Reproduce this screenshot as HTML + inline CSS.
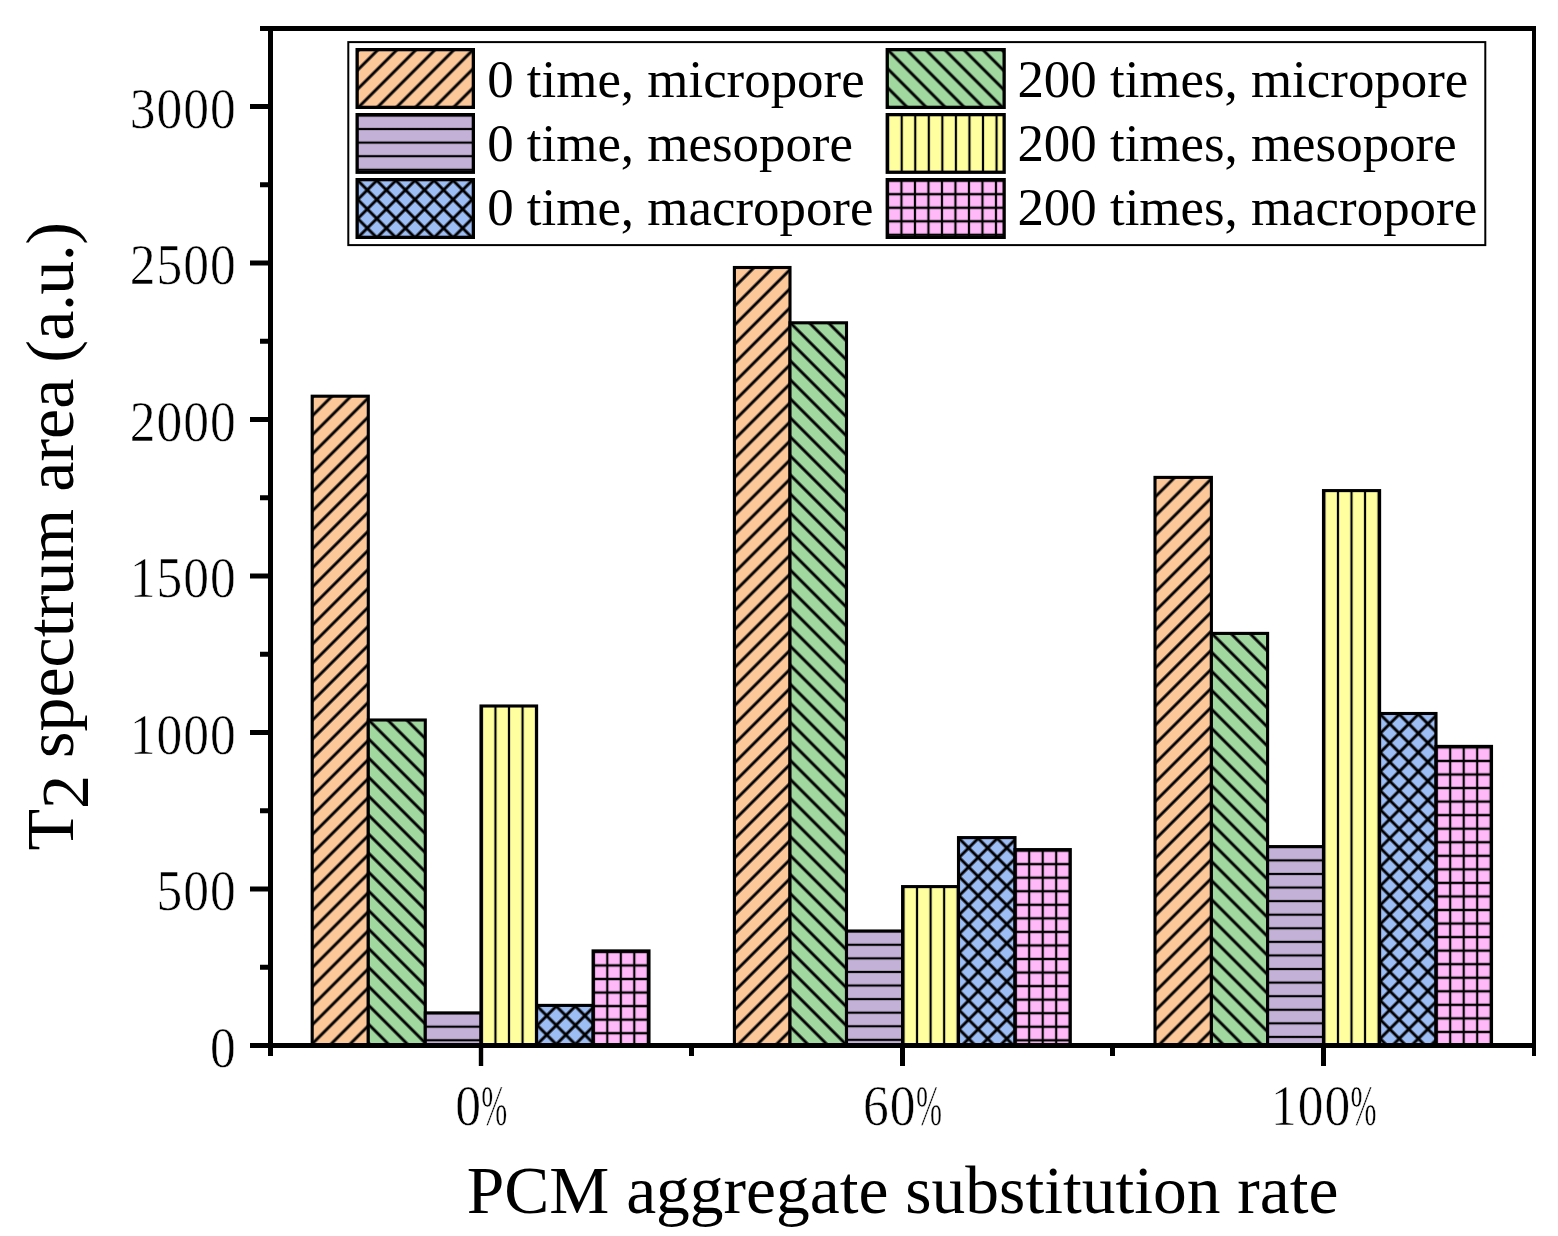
<!DOCTYPE html>
<html><head><meta charset="utf-8"><title>T2 spectrum area</title>
<style>
html,body{margin:0;padding:0;background:#fff}
svg{display:block}
text{font-family:"Liberation Serif",serif;fill:#000}
</style></head><body>
<svg width="1558" height="1236" viewBox="0 0 1558 1236">
<defs>
<pattern id="pO" patternUnits="userSpaceOnUse" width="13.455" height="13.455" patternTransform="translate(-8.814,0) rotate(45)"><line x1="6.7275" y1="-1" x2="6.7275" y2="15" stroke="#000" stroke-width="2.9"/></pattern>
<pattern id="pG" patternUnits="userSpaceOnUse" width="13.455" height="13.455" patternTransform="translate(-9.114,0) rotate(-45)"><line x1="6.7275" y1="-1" x2="6.7275" y2="15" stroke="#000" stroke-width="2.9"/></pattern>
<pattern id="pP" patternUnits="userSpaceOnUse" width="20" height="13.58" patternTransform="translate(0,-6.590)"><line x1="-1" y1="6.79" x2="21" y2="6.79" stroke="#000" stroke-width="2.2"/></pattern>
<pattern id="pY" patternUnits="userSpaceOnUse" width="13.55" height="20" patternTransform="translate(-5.875,0)"><line x1="6.775" y1="-1" x2="6.775" y2="21" stroke="#000" stroke-width="2.2"/></pattern>
<pattern id="pB" patternUnits="userSpaceOnUse" width="13.49" height="13.49" patternTransform="translate(0.600,-8.739) rotate(45)"><path d="M6.745,-1V15M-1,6.745H15" stroke="#000" stroke-width="2.9" fill="none"/></pattern>
<pattern id="pK" patternUnits="userSpaceOnUse" width="13.5" height="13.55" patternTransform="translate(-6.050,-5.775)"><path d="M6.75,-1V15M-1,6.775H15" stroke="#000" stroke-width="2.2" fill="none"/></pattern>
</defs>
<rect width="1558" height="1236" fill="#fff"/>
<g id="bars">
<g transform="translate(312.20,396.20)"><rect width="56.10" height="649.30" fill="#FCC89A"/><rect x="0" y="0" width="56.10" height="649.30" fill="url(#pO)" transform="translate(0,0)"/><rect width="56.10" height="649.30" fill="none" stroke="#000" stroke-width="3.1"/></g>
<g transform="translate(368.30,720.00)"><rect width="57.00" height="325.50" fill="#A0D8A0"/><rect x="0" y="0" width="57.00" height="325.50" fill="url(#pG)" transform="translate(0,0)"/><rect width="57.00" height="325.50" fill="none" stroke="#000" stroke-width="3.1"/></g>
<g transform="translate(425.30,1012.90)"><rect width="55.70" height="32.60" fill="#C3B1D7"/><rect x="0" y="0" width="55.70" height="32.60" fill="url(#pP)" transform="translate(0,0)"/><rect width="55.70" height="32.60" fill="none" stroke="#000" stroke-width="3.1"/></g>
<g transform="translate(481.00,706.00)"><rect width="55.60" height="339.50" fill="#FFFF9F"/><rect x="0" y="0" width="55.60" height="339.50" fill="url(#pY)" transform="translate(0,0)"/><rect width="55.60" height="339.50" fill="none" stroke="#000" stroke-width="3.1"/></g>
<g transform="translate(536.60,1005.40)"><rect width="56.50" height="40.10" fill="#9DBDF5"/><rect x="0" y="0" width="56.50" height="40.10" fill="url(#pB)" transform="translate(0,0)"/><rect width="56.50" height="40.10" fill="none" stroke="#000" stroke-width="3.1"/></g>
<g transform="translate(593.10,950.90)"><rect width="55.90" height="94.60" fill="#FFB8F8"/><rect x="0" y="0" width="55.90" height="94.60" fill="url(#pK)" transform="translate(0,0)"/><rect width="55.90" height="94.60" fill="none" stroke="#000" stroke-width="3.1"/></g>
<g transform="translate(734.40,267.50)"><rect width="55.60" height="778.00" fill="#FCC89A"/><rect x="0" y="0" width="55.60" height="778.00" fill="url(#pO)" transform="translate(0,0)"/><rect width="55.60" height="778.00" fill="none" stroke="#000" stroke-width="3.1"/></g>
<g transform="translate(790.00,322.80)"><rect width="56.50" height="722.70" fill="#A0D8A0"/><rect x="0" y="0" width="56.50" height="722.70" fill="url(#pG)" transform="translate(0,0)"/><rect width="56.50" height="722.70" fill="none" stroke="#000" stroke-width="3.1"/></g>
<g transform="translate(846.50,931.00)"><rect width="56.10" height="114.50" fill="#C3B1D7"/><rect x="0" y="0" width="56.10" height="114.50" fill="url(#pP)" transform="translate(0,0)"/><rect width="56.10" height="114.50" fill="none" stroke="#000" stroke-width="3.1"/></g>
<g transform="translate(902.60,886.60)"><rect width="55.90" height="158.90" fill="#FFFF9F"/><rect x="0" y="0" width="55.90" height="158.90" fill="url(#pY)" transform="translate(0,0)"/><rect width="55.90" height="158.90" fill="none" stroke="#000" stroke-width="3.1"/></g>
<g transform="translate(958.50,837.60)"><rect width="56.50" height="207.90" fill="#9DBDF5"/><rect x="0" y="0" width="56.50" height="207.90" fill="url(#pB)" transform="translate(0,0)"/><rect width="56.50" height="207.90" fill="none" stroke="#000" stroke-width="3.1"/></g>
<g transform="translate(1015.00,849.60)"><rect width="55.30" height="195.90" fill="#FFB8F8"/><rect x="0" y="0" width="55.30" height="195.90" fill="url(#pK)" transform="translate(0,0)"/><rect width="55.30" height="195.90" fill="none" stroke="#000" stroke-width="3.1"/></g>
<g transform="translate(1155.00,477.40)"><rect width="56.40" height="568.10" fill="#FCC89A"/><rect x="0" y="0" width="56.40" height="568.10" fill="url(#pO)" transform="translate(0,0)"/><rect width="56.40" height="568.10" fill="none" stroke="#000" stroke-width="3.1"/></g>
<g transform="translate(1211.40,633.40)"><rect width="56.20" height="412.10" fill="#A0D8A0"/><rect x="0" y="0" width="56.20" height="412.10" fill="url(#pG)" transform="translate(0,0)"/><rect width="56.20" height="412.10" fill="none" stroke="#000" stroke-width="3.1"/></g>
<g transform="translate(1267.60,846.60)"><rect width="55.90" height="198.90" fill="#C3B1D7"/><rect x="0" y="0" width="55.90" height="198.90" fill="url(#pP)" transform="translate(0,0)"/><rect width="55.90" height="198.90" fill="none" stroke="#000" stroke-width="3.1"/></g>
<g transform="translate(1323.50,490.60)"><rect width="56.10" height="554.90" fill="#FFFF9F"/><rect x="0" y="0" width="56.10" height="554.90" fill="url(#pY)" transform="translate(0,0)"/><rect width="56.10" height="554.90" fill="none" stroke="#000" stroke-width="3.1"/></g>
<g transform="translate(1379.60,713.50)"><rect width="56.40" height="332.00" fill="#9DBDF5"/><rect x="0" y="0" width="56.40" height="332.00" fill="url(#pB)" transform="translate(0,0)"/><rect width="56.40" height="332.00" fill="none" stroke="#000" stroke-width="3.1"/></g>
<g transform="translate(1436.00,746.40)"><rect width="55.50" height="299.10" fill="#FFB8F8"/><rect x="0" y="0" width="55.50" height="299.10" fill="url(#pK)" transform="translate(0,0)"/><rect width="55.50" height="299.10" fill="none" stroke="#000" stroke-width="3.1"/></g>
</g>
<g id="axes" fill="#000">
<g shape-rendering="crispEdges"><rect x="260" y="26" width="1276" height="5"/>
<rect x="250" y="1043" width="1286" height="5"/>
<rect x="268" y="26" width="5" height="1030"/>
<rect x="1532" y="26" width="4" height="1030"/></g>
<rect x="260" y="964.75" width="9" height="5"/>
<rect x="250" y="886.50" width="19" height="5"/>
<rect x="260" y="808.25" width="9" height="5"/>
<rect x="250" y="730.00" width="19" height="5"/>
<rect x="260" y="651.75" width="9" height="5"/>
<rect x="250" y="573.50" width="19" height="5"/>
<rect x="260" y="495.25" width="9" height="5"/>
<rect x="250" y="417.00" width="19" height="5"/>
<rect x="260" y="338.75" width="9" height="5"/>
<rect x="250" y="260.50" width="19" height="5"/>
<rect x="260" y="182.25" width="9" height="5"/>
<rect x="250" y="104.00" width="19" height="5"/>
<rect x="478.80" y="1045" width="4.4" height="21"/>
<rect x="900.00" y="1045" width="5" height="21"/>
<rect x="1321.00" y="1045" width="5" height="21"/>
<rect x="689.00" y="1045" width="5" height="11"/>
<rect x="1110.00" y="1045" width="5" height="11"/>
</g>
<g id="ylabels" font-size="56.0" text-anchor="end" letter-spacing="1.022" stroke="#fff" stroke-width="0.6">
<text transform="translate(236.6,1066.9) scale(0.92,1)">0</text>
<text transform="translate(236.6,910.4) scale(0.92,1)">500</text>
<text transform="translate(236.6,753.9) scale(0.92,1)">1000</text>
<text transform="translate(236.6,597.4) scale(0.92,1)">1500</text>
<text transform="translate(236.6,440.9) scale(0.92,1)">2000</text>
<text transform="translate(236.6,284.4) scale(0.92,1)">2500</text>
<text transform="translate(236.6,127.9) scale(0.92,1)">3000</text>
</g>
<g id="xlabels" font-size="56.0" letter-spacing="1.022" stroke="#fff" stroke-width="0.6">
<text transform="translate(455.2,1124.7) scale(0.92,1)">0</text>
<text x="481.3" y="1124.7" textLength="26" lengthAdjust="spacingAndGlyphs" letter-spacing="0">%</text>
<text transform="translate(863.1,1124.7) scale(0.92,1)">60</text>
<text x="915.9" y="1124.7" textLength="26" lengthAdjust="spacingAndGlyphs" letter-spacing="0">%</text>
<text transform="translate(1271.0,1124.7) scale(0.92,1)">100</text>
<text x="1350.5" y="1124.7" textLength="26" lengthAdjust="spacingAndGlyphs" letter-spacing="0">%</text>
</g>
<text id="xtitle" x="466.7" y="1212.9" font-size="67.5">PCM aggregate substitution rate</text>
<text id="ytitle" transform="translate(72.9,850.6) rotate(-90)" font-size="68">T<tspan dy="14.6">2</tspan><tspan dy="-14.6"> spectrum area </tspan><tspan dx="-1.2" letter-spacing="-0.55">(a.u.)</tspan></text>
<g id="legend">
<rect x="348.3" y="42.1" width="1137" height="203" fill="#fff" stroke="#000" stroke-width="2"/>
<g transform="translate(357.15,49.65)"><rect width="116.20" height="57.70" fill="#FCC89A"/><rect x="-1.2" y="0" width="116.20" height="57.70" fill="url(#pO)" transform="translate(1.2,0)"/><rect width="116.20" height="57.70" fill="none" stroke="#000" stroke-width="3.3"/></g>
<text x="487.2" y="96.6" font-size="52.9">0 time, micropore</text>
<g transform="translate(357.15,114.65)"><rect width="116.20" height="57.60" fill="#C3B1D7"/><rect x="0" y="-0.6" width="116.20" height="57.60" fill="url(#pP)" transform="translate(0,0.6)"/><rect width="116.20" height="57.60" fill="none" stroke="#000" stroke-width="3.3"/></g>
<text x="487.2" y="160.8" font-size="52.9">0 time, mesopore</text>
<g transform="translate(357.15,179.65)"><rect width="116.20" height="57.70" fill="#9DBDF5"/><rect x="0" y="0" width="116.20" height="57.70" fill="url(#pB)" transform="translate(0,0)"/><rect width="116.20" height="57.70" fill="none" stroke="#000" stroke-width="3.3"/></g>
<text x="487.2" y="225.4" font-size="52.9">0 time, macropore</text>
<g transform="translate(887.25,49.65)"><rect width="116.90" height="57.70" fill="#A0D8A0"/><rect x="0" y="0" width="116.90" height="57.70" fill="url(#pG)" transform="translate(0,0)"/><rect width="116.90" height="57.70" fill="none" stroke="#000" stroke-width="3.3"/></g>
<text x="1017.4" y="96.6" font-size="52.9">200 times, micropore</text>
<g transform="translate(887.25,114.65)"><rect width="116.90" height="57.60" fill="#FFFF9F"/><rect x="0" y="0" width="116.90" height="57.60" fill="url(#pY)" transform="translate(0,0)"/><rect width="116.90" height="57.60" fill="none" stroke="#000" stroke-width="3.3"/></g>
<text x="1017.4" y="160.8" font-size="52.9">200 times, mesopore</text>
<g transform="translate(887.25,179.65)"><rect width="116.90" height="57.70" fill="#FFB8F8"/><rect x="0" y="0" width="116.90" height="57.70" fill="url(#pK)" transform="translate(0,0)"/><rect width="116.90" height="57.70" fill="none" stroke="#000" stroke-width="3.3"/></g>
<text x="1017.4" y="225.4" font-size="52.9">200 times, macropore</text>
</g>
</svg></body></html>
